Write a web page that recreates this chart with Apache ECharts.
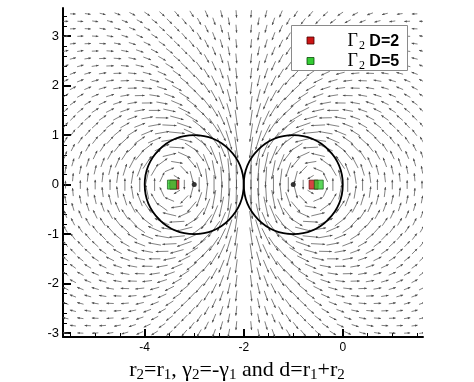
<!DOCTYPE html>
<html><head><meta charset="utf-8">
<script src="https://cdn.jsdelivr.net/npm/echarts@6/dist/echarts.min.js"></script>
<style>html,body{margin:0;padding:0;background:#fff}#c{width:474px;height:382px}</style>
</head><body><div id="c"></div>
<script>
// ---- data ----
const xMin = -5.65, xMax = 1.62, yMin = -3.08, yMax = 3.57;
const xMajorTicks = [-4, -2, 0];
const xMinorTicks = [-5.5, -5, -4.5, -3.5, -3, -2.5, -1.5, -1, -0.5, 0.5, 1, 1.5];
const yMajorTicks = [-3, -2, -1, 0, 1, 2, 3];
const yMinorTicks = [-2.8, -2.6, -2.4, -2.2, -1.8, -1.6, -1.4, -1.2, -0.8, -0.6, -0.4, -0.2,
  0.2, 0.4, 0.6, 0.8, 1.2, 1.4, 1.6, 1.8, 2.2, 2.4, 2.6, 2.8, 3.2, 3.4];

// vector samples of the upper-left quarter (field is mirror symmetric about x=-2 and y=0)
// sample set A
const colXA = [-2.15, -2.45, -2.75, -3.05, -3.35, -3.65, -3.95, -4.25, -4.55, -4.85, -5.15, -5.45];
const rowYA = [0.15, 0.45, 0.75, 1.05, 1.35, 1.65, 1.95, 2.25, 2.55, 2.85, 3.15, 3.45];
const uColsA = [
  [0.038, 0.155, 0.186, 0.142, 0.101, 0.071, 0.051, 0.037, 0.027, 0.021, 0.016, 0.012],
  [0.079, 0.255, 0.469, 0.420, 0.291, 0.203, 0.145, 0.105, 0.079, 0.060, 0.046, 0.036],
  [0.101, 0.312, 0.543, 0.649, 0.440, 0.307, 0.220, 0.162, 0.122, 0.093, 0.073, 0.058],
  [0.114, 0.348, 0.593, 0.752, 0.516, 0.367, 0.269, 0.201, 0.154, 0.120, 0.095, 0.076],
  [0.123, 0.371, 0.627, 0.699, 0.510, 0.380, 0.288, 0.221, 0.173, 0.137, 0.110, 0.089],
  [0.129, 0.388, 0.651, 0.559, 0.449, 0.355, 0.281, 0.224, 0.180, 0.145, 0.119, 0.098],
  [0.133, 0.357, 0.431, 0.417, 0.367, 0.311, 0.258, 0.214, 0.176, 0.146, 0.122, 0.102],
  [0.080, 0.213, 0.286, 0.304, 0.290, 0.261, 0.228, 0.196, 0.167, 0.142, 0.121, 0.103],
  [0.050, 0.138, 0.196, 0.223, 0.226, 0.214, 0.195, 0.174, 0.153, 0.133, 0.116, 0.100],
  [0.033, 0.094, 0.139, 0.166, 0.176, 0.174, 0.165, 0.152, 0.137, 0.123, 0.109, 0.096],
  [0.024, 0.067, 0.103, 0.126, 0.139, 0.142, 0.139, 0.131, 0.122, 0.111, 0.101, 0.090],
  [0.017, 0.050, 0.077, 0.098, 0.110, 0.116, 0.116, 0.113, 0.107, 0.100, 0.092, 0.084]
];
const vColsA = [
  [-1.705, -1.604, -1.272, -0.940, -0.700, -0.531, -0.412, -0.327, -0.265, -0.218, -0.182, -0.154],
  [-1.232, -1.179, -1.094, -0.844, -0.628, -0.482, -0.380, -0.305, -0.249, -0.207, -0.174, -0.149],
  [-0.817, -0.786, -0.733, -0.635, -0.491, -0.392, -0.320, -0.264, -0.221, -0.187, -0.160, -0.138],
  [-0.435, -0.415, -0.380, -0.341, -0.313, -0.278, -0.243, -0.211, -0.184, -0.160, -0.140, -0.123],
  [-0.074, -0.061, -0.036, -0.069, -0.140, -0.162, -0.163, -0.155, -0.143, -0.130, -0.117, -0.106],
  [0.274, 0.283, 0.301, 0.100, -0.010, -0.065, -0.091, -0.101, -0.102, -0.099, -0.094, -0.087],
  [0.612, 0.528, 0.330, 0.173, 0.068, 0.004, -0.034, -0.055, -0.066, -0.070, -0.071, -0.069],
  [0.482, 0.406, 0.296, 0.191, 0.107, 0.047, 0.007, -0.019, -0.035, -0.045, -0.050, -0.052],
  [0.358, 0.318, 0.253, 0.183, 0.121, 0.071, 0.033, 0.007, -0.012, -0.024, -0.032, -0.037],
  [0.278, 0.254, 0.214, 0.167, 0.121, 0.082, 0.049, 0.024, 0.006, -0.008, -0.017, -0.023],
  [0.222, 0.208, 0.182, 0.149, 0.116, 0.085, 0.058, 0.036, 0.019, 0.005, -0.005, -0.012],
  [0.182, 0.172, 0.155, 0.132, 0.108, 0.083, 0.061, 0.043, 0.027, 0.014, 0.004, -0.003]
];
// sample set B (staggered)
const colXB = [-2.3, -2.6, -2.9, -3.2, -3.5, -3.8, -4.1, -4.4, -4.7, -5.0, -5.3, -5.6];
const rowYB = [0, 0.3, 0.6, 0.9, 1.2, 1.5, 1.8, 2.1, 2.4, 2.7, 3.0, 3.3];
const uColsB = [
  [0, 0.131, 0.307, 0.332, 0.238, 0.167, 0.118, 0.084, 0.062, 0.046, 0.036, 0.028],
  [0, 0.187, 0.395, 0.633, 0.450, 0.311, 0.219, 0.158, 0.117, 0.088, 0.068, 0.053],
  [0, 0.219, 0.449, 0.696, 0.590, 0.408, 0.291, 0.213, 0.160, 0.122, 0.095, 0.075],
  [0, 0.239, 0.485, 0.741, 0.620, 0.444, 0.326, 0.245, 0.187, 0.146, 0.115, 0.092],
  [0, 0.253, 0.509, 0.722, 0.554, 0.424, 0.326, 0.254, 0.200, 0.159, 0.128, 0.104],
  [0, 0.262, 0.527, 0.517, 0.448, 0.370, 0.301, 0.244, 0.199, 0.162, 0.133, 0.110],
  [0, 0.200, 0.322, 0.359, 0.344, 0.307, 0.264, 0.224, 0.188, 0.158, 0.133, 0.112],
  [0, 0.121, 0.208, 0.252, 0.261, 0.248, 0.224, 0.198, 0.172, 0.149, 0.128, 0.110],
  [0, 0.079, 0.142, 0.181, 0.198, 0.198, 0.187, 0.172, 0.154, 0.136, 0.120, 0.105],
  [0, 0.055, 0.101, 0.134, 0.152, 0.158, 0.155, 0.147, 0.136, 0.123, 0.111, 0.099],
  [0, 0.040, 0.074, 0.101, 0.118, 0.127, 0.128, 0.125, 0.118, 0.110, 0.101, 0.092],
  [0, 0.030, 0.056, 0.078, 0.093, 0.102, 0.106, 0.106, 0.103, 0.097, 0.091, 0.084]
];
const vColsB = [
  [-1.469, -1.430, -1.334, -1.058, -0.778, -0.585, -0.451, -0.356, -0.287, -0.235, -0.195, -0.165],
  [-1.025, -1.004, -0.948, -0.875, -0.650, -0.499, -0.394, -0.317, -0.260, -0.216, -0.182, -0.155],
  [-0.626, -0.614, -0.579, -0.530, -0.445, -0.368, -0.308, -0.260, -0.220, -0.188, -0.162, -0.140],
  [-0.255, -0.246, -0.223, -0.189, -0.215, -0.223, -0.211, -0.193, -0.173, -0.154, -0.137, -0.122],
  [0.100, 0.106, 0.122, 0.118, -0.029, -0.094, -0.120, -0.127, -0.125, -0.118, -0.110, -0.101],
  [0.443, 0.447, 0.459, 0.228, 0.083, -0.001, -0.047, -0.070, -0.081, -0.084, -0.083, -0.080],
  [0.587, 0.527, 0.390, 0.247, 0.135, 0.057, 0.006, -0.025, -0.044, -0.054, -0.059, -0.060],
  [0.420, 0.391, 0.318, 0.231, 0.150, 0.086, 0.040, 0.007, -0.015, -0.029, -0.038, -0.042],
  [0.318, 0.302, 0.260, 0.204, 0.148, 0.099, 0.059, 0.029, 0.006, -0.009, -0.020, -0.027],
  [0.250, 0.240, 0.214, 0.178, 0.138, 0.101, 0.068, 0.042, 0.021, 0.005, -0.006, -0.014],
  [0.202, 0.196, 0.179, 0.154, 0.126, 0.098, 0.072, 0.049, 0.031, 0.016, 0.005, -0.004],
  [0.167, 0.163, 0.151, 0.134, 0.114, 0.092, 0.072, 0.053, 0.037, 0.023, 0.013, 0.004]
];
const symmetryX = -2;

const circleX = [-3, -1];
const circleY = [0, 0];
const circleR = [1, 1];
const dotX = [-3, -1];
const dotY = [0, 0];
const redX = [-3.40, -0.59];
const redY = [0, 0];
const greenX = [-3.45, -0.485];
const greenY = [0, 0];
const seriesNames = ['\u03932 D=2', '\u03932 D=5'];

// ---- build tables ----
const fieldData = [];
function addSamples(cols, rows, us, vs) {
  for (let i = 0; i < cols.length; i++) {
    for (let j = 0; j < rows.length; j++) {
      const x = cols[i], y = rows[j], u = us[i][j], v = vs[i][j];
      const xm = 2 * symmetryX - x;
      fieldData.push([x, y, u, v], [xm, y, -u, v]);
      if (y > 0 && -y >= yMin) fieldData.push([x, -y, -u, v], [xm, -y, u, v]);
    }
  }
}
addSamples(colXA, rowYA, uColsA, vColsA);
addSamples(colXB, rowYB, uColsB, vColsB);
const circleData = circleX.map((x, i) => [x, circleY[i], circleR[i]]);
const zip = (a, b) => a.map((x, i) => [x, b[i]]);

// ---- styles ----
const ARROW_K = 19, ARROW_EXP = 0.5, ARROW_MAX = 28, HEAD_L = 2.5, HEAD_W = 1.1;
const ARROW_COLOR = '#4a4a4a';
const SANS = '"Liberation Sans", Arial, Helvetica, sans-serif';
const SERIF = '"Liberation Serif", "Times New Roman", serif';

function renderArrow(params, api) {
  const x = api.value(0), y = api.value(1), u = api.value(2), v = api.value(3);
  const p = api.coord([x, y]);
  const m = Math.hypot(u, v);
  if (!m) return null;
  const L = Math.min(ARROW_MAX, ARROW_K * Math.pow(m, ARROW_EXP));
  const dx = u / m, dy = -v / m;
  const x0 = p[0] - dx * L / 2, y0 = p[1] - dy * L / 2;
  const x1 = p[0] + dx * L / 2, y1 = p[1] + dy * L / 2;
  const bx = x1 - dx * HEAD_L, by = y1 - dy * HEAD_L;
  return {
    type: 'group',
    children: [
      { type: 'line', shape: { x1: x0, y1: y0, x2: x1, y2: y1 },
        style: { stroke: ARROW_COLOR, lineWidth: 0.7 } },
      { type: 'polygon', shape: { points: [[x1, y1], [bx - dy * HEAD_W, by + dx * HEAD_W], [bx + dy * HEAD_W, by - dx * HEAD_W]] },
        style: { fill: ARROW_COLOR } }
    ]
  };
}

function renderCircle(params, api) {
  const c = api.coord([api.value(0), api.value(1)]);
  const r = api.size([api.value(2), 0])[0];
  return { type: 'circle', shape: { cx: c[0], cy: c[1], r: r },
    style: { fill: 'none', stroke: '#000', lineWidth: 1.8 } };
}

function legendText(d) {
  return {
    text: '{g|\u0393}{s|2}{d| D=' + d + '}',
    align: 'left', verticalAlign: 'top',
    rich: {
      g: { fontFamily: SERIF, fontSize: 18, lineHeight: 24, verticalAlign: 'middle', fill: '#000' },
      s: { fontFamily: SERIF, fontSize: 12, padding: [10.4, 0, 0, 1], verticalAlign: 'middle', fill: '#000' },
      d: { fontFamily: SANS, fontSize: 16, fontWeight: 'bold', lineHeight: 24, verticalAlign: 'middle', fill: '#000' }
    }
  };
}

const chart = echarts.init(document.getElementById('c'), null, { renderer: 'canvas' });
const axisBase = { type: 'value', splitLine: { show: false } };
chart.setOption({
  animation: false,
  backgroundColor: '#fff',
  grid: { left: 63, right: 51, top: 8, bottom: 45, containLabel: false },
  xAxis: [
    Object.assign({}, axisBase, {
      min: xMin, max: xMax, position: 'bottom',
      axisLine: { show: true, onZero: false, lineStyle: { color: '#000', width: 2 } },
      axisTick: { show: true, inside: true, length: 8, customValues: xMajorTicks, lineStyle: { color: '#000', width: 2 } },
      axisLabel: { show: true, customValues: xMajorTicks, color: '#000', fontSize: 12, fontFamily: SANS, margin: 5 }
    }),
    Object.assign({}, axisBase, {
      min: xMin, max: xMax, position: 'bottom',
      axisLine: { show: false, onZero: false },
      axisTick: { show: true, inside: true, length: 4, customValues: xMinorTicks, lineStyle: { color: '#000', width: 1 } },
      axisLabel: { show: false }
    })
  ],
  yAxis: [
    Object.assign({}, axisBase, {
      min: yMin, max: yMax, position: 'left',
      axisLine: { show: true, onZero: false, lineStyle: { color: '#000', width: 2 } },
      axisTick: { show: true, inside: true, length: 8, customValues: yMajorTicks, lineStyle: { color: '#000', width: 2 } },
      axisLabel: { show: true, customValues: yMajorTicks, color: '#000', fontSize: 13, fontFamily: SANS, margin: 4 }
    }),
    Object.assign({}, axisBase, {
      min: yMin, max: yMax, position: 'left',
      axisLine: { show: false, onZero: false },
      axisTick: { show: true, inside: true, length: 4, customValues: yMinorTicks, lineStyle: { color: '#000', width: 1 } },
      axisLabel: { show: false }
    })
  ],
  series: [
    { type: 'custom', name: 'velocity', renderItem: renderArrow, data: fieldData, clip: true, silent: true, z: 1 },
    { type: 'custom', name: 'circles', renderItem: renderCircle, data: circleData, clip: true, silent: true, z: 2 },
    { type: 'scatter', name: 'centers', data: zip(dotX, dotY), symbol: 'circle', symbolSize: 5,
      itemStyle: { color: '#000' }, silent: true, z: 3 },
    { type: 'scatter', name: seriesNames[0], data: zip(redX, redY), symbol: 'rect', symbolSize: 9,
      itemStyle: { color: '#cc1414', borderColor: '#4a0000', borderWidth: 0.8 }, silent: true, z: 4 },
    { type: 'scatter', name: seriesNames[1], data: zip(greenX, greenY), symbol: 'rect', symbolSize: 9,
      itemStyle: { color: '#33cc33', borderColor: '#0a4a0a', borderWidth: 0.8 }, silent: true, z: 5 }
  ],
  graphic: [
    { type: 'rect', z: 10, shape: { x: 291.5, y: 25.5, width: 116, height: 45 },
      style: { fill: '#fff', stroke: '#8a8a8a', lineWidth: 1 } },
    { type: 'rect', z: 11, shape: { x: 307, y: 37, width: 7, height: 7 },
      style: { fill: '#cc1414', stroke: '#4a0000', lineWidth: 0.8 } },
    { type: 'rect', z: 11, shape: { x: 307, y: 57.5, width: 7, height: 7 },
      style: { fill: '#33cc33', stroke: '#0a4a0a', lineWidth: 0.8 } },
    { type: 'text', z: 11, x: 347.5, y: 29.1, style: legendText('2') },
    { type: 'text', z: 11, x: 347.5, y: 49.1, style: legendText('5') },
    { type: 'text', z: 11, x: 237, y: 356.9, style: {
      text: '{m|r}{s|2}{m|=r}{s|1}{m|, \u03b3}{s|2}{m|=-\u03b3}{s|1}{m| and d=r}{s|1}{m|+r}{s|2}',
      align: 'center', verticalAlign: 'top',
      rich: {
        m: { fontFamily: SERIF, fontSize: 22, lineHeight: 26, verticalAlign: 'middle', fill: '#000' },
        s: { fontFamily: SERIF, fontSize: 15, padding: [10.4, 0, 0, 0], verticalAlign: 'middle', fill: '#000' }
      }
    } }
  ]
});
</script>
</body></html>
